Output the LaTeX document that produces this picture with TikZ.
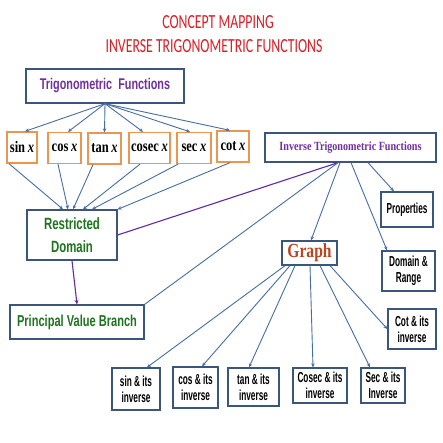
\documentclass[tikz,border=0pt]{standalone}
\usepackage{fontspec}
\usetikzlibrary{arrows.meta}
\newfontfamily\titlefont{Carlito}[FakeStretch=0.69]
\newfontfamily\sansn{Liberation Sans}[FakeStretch=0.57]
\newfontfamily\sansm{Liberation Sans}[FakeStretch=0.70]
\newfontfamily\serifn{Liberation Serif}[FakeStretch=0.78]
\newfontfamily\serifw{Liberation Serif}[FakeStretch=0.81]
\definecolor{boxborder}{RGB}{60,85,125}
\definecolor{conn}{RGB}{70,110,165}
\definecolor{orangeb}{RGB}{235,150,80}
\definecolor{purp}{RGB}{112,48,160}
\definecolor{grn}{RGB}{30,115,30}
\definecolor{titlered}{RGB}{220,30,40}
\definecolor{graphc}{RGB}{185,70,30}
\tikzset{
  box/.style={draw=boxborder, line width=1.3pt, fill=white, inner sep=0pt, align=center},
  fbox/.style={draw=orangeb, line width=1.3pt, fill=white, inner sep=0pt, align=center,
    font=\serifn\bfseries\fontsize{16}{16}\selectfont},
  smalltxt/.style={font=\sansn\bfseries\fontsize{14.5}{16}\selectfont},
  arr/.style={draw=conn, line width=0.9pt, -{Stealth[length=4pt,width=3.5pt]}},
  ln/.style={draw=conn, line width=0.9pt},
  parr/.style={draw=purp!85!blue, line width=1.1pt, -{Stealth[length=4.5pt,width=4pt]}}
}
\begin{document}
\begin{tikzpicture}[x=1pt,y=-1pt]
\useasboundingbox[fill=white] (0,0) rectangle (443,443);
% title
\node[text=titlered, font=\titlefont\fontsize{20}{20}\selectfont] (t1) at (218,22) {CONCEPT MAPPING};
\node[text=titlered, font=\titlefont\fontsize{20}{20}\selectfont] (t2) at (214,46) {INVERSE TRIGONOMETRIC FUNCTIONS};
% top
\node[box, minimum width=158pt, minimum height=34pt, text=purp, font=\sansm\bfseries\fontsize{15.5}{16}\selectfont] (tf) at (105,86) {Trigonometric\ \ Functions};
\node[fbox, minimum width=30pt, minimum height=31pt] (sin) at (22,147.5) {sin\,\textit{x}};
\node[fbox, minimum width=33pt, minimum height=31pt] (cos) at (64.5,148) {cos\,\textit{x}};
\node[fbox, minimum width=33pt, minimum height=31pt] (tan) at (104.5,148.5) {tan\,\textit{x}};
\node[fbox, minimum width=41pt, minimum height=31pt] (cosec) at (149.5,148) {cosec\,\textit{x}};
\node[fbox, minimum width=34pt, minimum height=31pt] (sec) at (194,148) {sec\,\textit{x}};
\node[fbox, minimum width=32pt, minimum height=31pt] (cot) at (233,146.5) {cot\,\textit{x}};
\node[box, minimum width=90pt, minimum height=50pt, text=grn, font=\sansm\bfseries\fontsize{16.3}{23}\selectfont] (rd) at (72,235) {Restricted\\Domain};
\node[box, minimum width=134pt, minimum height=34pt, text=grn, font=\sansm\bfseries\fontsize{15.8}{18}\selectfont] (pvb) at (77,322) {Principal Value Branch};
\node[box, minimum width=171pt, minimum height=29pt, text=purp, font=\serifw\bfseries\fontsize{12.5}{14}\selectfont] (itf) at (350.5,147.5) {Inverse Trigonometric Functions};
\node[box, smalltxt, minimum width=52pt, minimum height=35pt] (prop) at (407,209.5) {Properties};
\node[box, minimum width=55pt, minimum height=24pt, text=graphc, font=\serifn\bfseries\fontsize{20}{20}\selectfont] (graph) at (309.5,253) {Graph};
\node[box, smalltxt, minimum width=53pt, minimum height=40pt] (dr) at (408.5,271) {Domain \&\\Range};
\node[box, smalltxt, minimum width=48pt, minimum height=40pt] (cotinv) at (412,329) {Cot \& its\\inverse};
\node[box, smalltxt, minimum width=48pt, minimum height=42pt] (sininv) at (136,389) {sin \& its\\inverse};
\node[box, smalltxt, minimum width=45pt, minimum height=41pt] (cosinv) at (195.5,387.5) {cos \& its\\inverse};
\node[box, smalltxt, minimum width=51pt, minimum height=38pt] (taninv) at (253.5,387) {tan \& its\\inverse};
\node[box, smalltxt, minimum width=54pt, minimum height=35pt] (cosecinv) at (320,385.5) {Cosec \& its\\inverse};
\node[box, smalltxt, minimum width=44pt, minimum height=35pt] (secinv) at (383,385.5) {Sec \& its\\Inverse};
% connectors top
\draw[arr] (tf.south) -- ([xshift=3pt]sin.north);
\draw[arr] (tf.south) -- ([xshift=3.5pt]cos.north);
\draw[arr] (tf.south) -- (tan.north);
\draw[arr] (tf.south) -- ([xshift=-6.5pt]cosec.north);
\draw[arr] (tf.south) -- ([xshift=-4pt]sec.north);
\draw[arr] (tf.south) -- ([xshift=-3pt]cot.north);
\draw[arr] ([xshift=-13pt]sin.south) -- ([xshift=-9pt]rd.north);
\draw[arr] ([xshift=-6.5pt]cos.south) -- ([xshift=-4pt]rd.north);
\draw[arr] ([xshift=-11.5pt]tan.south) -- ([xshift=1pt]rd.north);
\draw[arr] ([xshift=-9.5pt]cosec.south) -- ([xshift=11pt]rd.north);
\draw[arr] ([xshift=-16pt]sec.south) -- ([xshift=20pt]rd.north);
\draw[arr] ([xshift=-3pt]cot.south) -- (rd.north east);
% purple
\draw[parr] (rd.east) -- ([xshift=-12.5pt]itf.south);
\draw[parr] (rd.south) -- (pvb.north);
\draw[ln] (pvb.north east) -- ([xshift=-12.5pt]itf.south);
% inverse
\draw[arr] ([xshift=-10.5pt]itf.south) -- ([xshift=1.5pt]graph.north);
\draw[arr] ([xshift=0.5pt]itf.south) -- ([xshift=-21.5pt]dr.north);
\draw[arr] ([xshift=17.5pt]itf.south) -- ([xshift=-13pt]prop.north);
% graph
\draw[arr] ([xshift=20.5pt]graph.south) -- (cotinv.west);
\draw[arr] ([xshift=-24.5pt]graph.south) -- ([xshift=11pt]sininv.north);
\draw[arr] ([xshift=-19.5pt]graph.south) -- ([xshift=6.5pt]cosinv.north);
\draw[arr] ([xshift=-14.5pt]graph.south) -- ([xshift=-4.5pt]taninv.north);
\draw[arr] ([xshift=0.5pt]graph.south) -- ([xshift=-7pt]cosecinv.north);
\draw[arr] ([xshift=10.5pt]graph.south) -- ([xshift=-13pt]secinv.north);
\end{tikzpicture}
\end{document}
